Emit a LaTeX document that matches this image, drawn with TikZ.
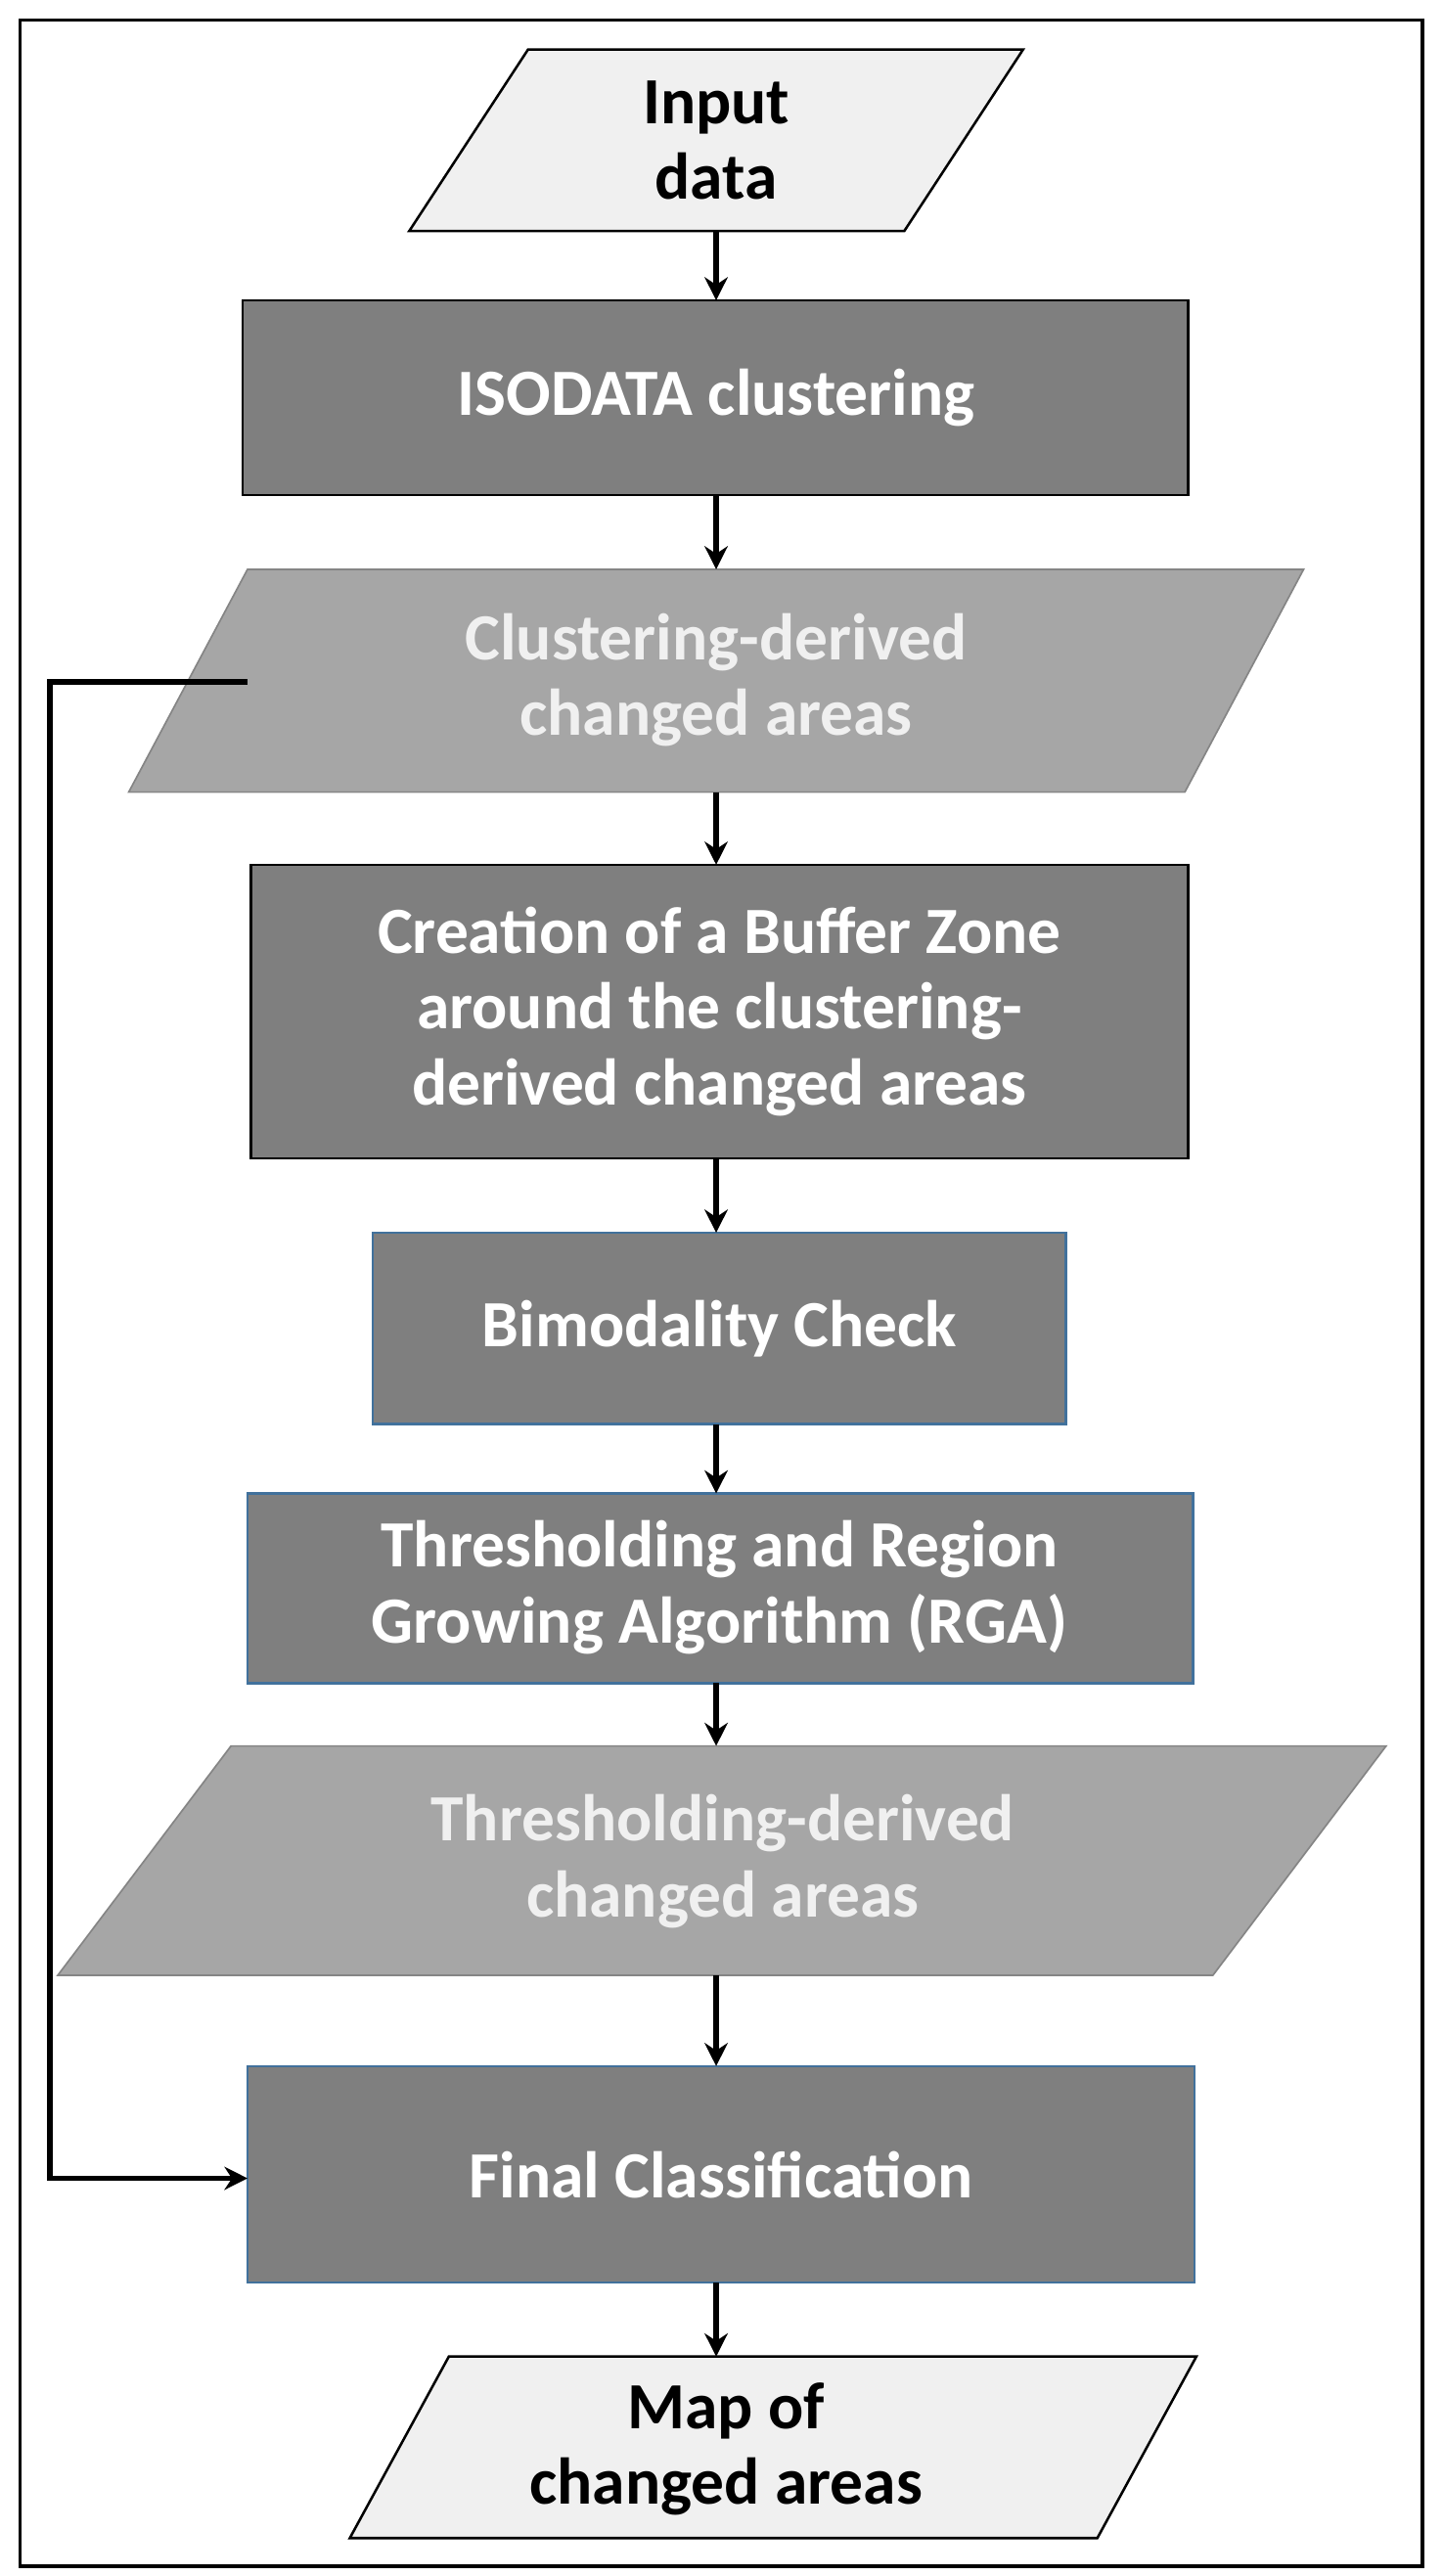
\documentclass[tikz,border=0pt]{standalone}
\usepackage{fontspec}
\setmainfont{Carlito}
\usetikzlibrary{arrows.meta}
\definecolor{dk}{HTML}{7F7F7F}
\definecolor{md}{HTML}{A6A6A6}
\definecolor{lt}{HTML}{F0F0F0}
\definecolor{bl}{HTML}{41719C}
\begin{document}
\begin{tikzpicture}[x=1pt,y=-1pt,
 txt/.style={font=\fontsize{40}{46}\selectfont\bfseries,align=center,inner sep=0},
 wtxt/.style={txt,text=white},
 gtxt/.style={txt,text=lt},
 arr/.style={line width=3.5pt,-{Stealth[length=14pt,width=14pt]}},
 box/.style={fill=dk,draw=black,line width=1.5pt},
 bbox/.style={fill=dk,draw=bl,line width=1.5pt}]
\useasboundingbox (0,0) rectangle (874,1561);
\draw[line width=2pt] (12,12) rectangle (862,1555);
% Input data
\draw[fill=lt,line width=1.5pt] (320,30)--(620,30)--(548,140)--(248,140)--cycle;
\node[txt] (in) at (434,85) {Input\\data};
\coordinate (inb) at (434,140);
% ISODATA
\draw[box] (147,182) rectangle (720,300);
\node[wtxt] (iso) at (434,241) {ISODATA clustering};
\coordinate (isot) at (434,182); \coordinate (isob) at (434,300);
% Clustering-derived
\draw[fill=md,draw=md!80!black,line width=1pt] (150,345)--(790,345)--(718,480)--(78,480)--cycle;
\node[gtxt] (cl) at (434,412) {Clustering-derived\\changed areas};
\coordinate (clt) at (434,345); \coordinate (clb) at (434,480);
\coordinate (cll) at (150,413);
% Buffer
\draw[box] (152,524) rectangle (720,702);
\node[wtxt] (buf) at (436,613) {Creation of a Buffer Zone\\around the clustering-\\derived changed areas};
\coordinate (buft) at (434,524); \coordinate (bufb) at (434,702);
% Bimodality
\draw[bbox] (226,747) rectangle (646,863);
\node[wtxt] (bim) at (436,805) {Bimodality Check};
\coordinate (bimt) at (434,747); \coordinate (bimb) at (434,863);
% Thresholding
\draw[bbox] (150,905) rectangle (723,1020);
\node[wtxt] (thr) at (436,962) {Thresholding and Region\\Growing Algorithm (RGA)};
\coordinate (thrt) at (434,905); \coordinate (thrb) at (434,1020);
% Thresholding-derived
\draw[fill=md,draw=md!80!black,line width=1pt] (140,1058)--(840,1058)--(735,1197)--(35,1197)--cycle;
\node[gtxt] (td) at (438,1128) {Thresholding-derived\\changed areas};
\coordinate (tdt) at (434,1058); \coordinate (tdb) at (434,1197);
% Final
\draw[bbox] (150,1252) rectangle (724,1383);
\node[wtxt] (fin) at (437,1318) {Final Classification};
\coordinate (fint) at (434,1252); \coordinate (finb) at (434,1383);
\coordinate (finl) at (150,1320);
% Map
\draw[fill=lt,line width=1.5pt] (272,1428)--(725,1428)--(665,1538)--(212,1538)--cycle;
\node[txt] (map) at (440,1484) {Map of\\changed areas};
\coordinate (mapt) at (434,1428);
% arrows
\draw[arr] (inb)--(isot);
\draw[arr] (isob)--(clt);
\draw[arr] (clb)--(buft);
\draw[arr] (bufb)--(bimt);
\draw[arr] (bimb)--(thrt);
\draw[arr] (thrb)--(tdt);
\draw[arr] (tdb)--(fint);
\draw[arr] (finb)--(mapt);
\draw[arr] (cll)--(30,413)--(30,1320)--(finl);
\end{tikzpicture}
\end{document}
